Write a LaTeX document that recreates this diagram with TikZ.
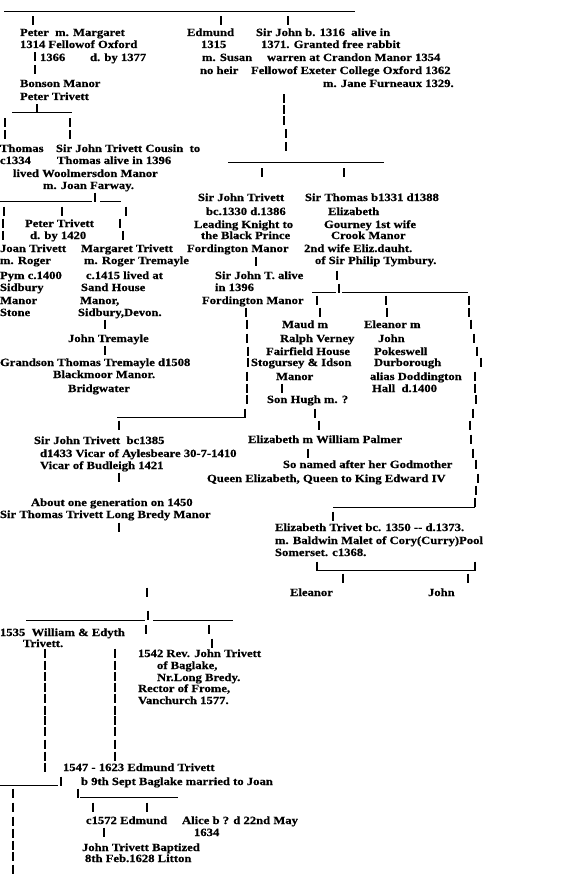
\documentclass[tikz,border=0pt]{standalone}
\usepackage{fontspec}
\newfontfamily\chfont{Liberation Serif}[FakeStretch=1.15, BoldFeatures={FakeBold=0.5}]
\newcommand\chtxt[4]{\node[txt] (#1) at (#2,#3+4) {#4};}
\newcommand\chbar[2]{\draw[vbar] (#1,#2-4.5) -- (#1,#2+4.5);}
\newcommand\chline[3]{\draw[hl] (#1,#3) -- (#2,#3);}
\tikzset{
  txt/.style={anchor=base west, inner sep=0pt, outer sep=0pt, font=\chfont\bfseries\fontsize{11}{12}\selectfont, text=black},
  vbar/.style={line width=2pt, black},
  hl/.style={line width=1pt, black}
}
\begin{document}
\begin{tikzpicture}[x=1pt,y=-1pt]
\fill[white] (0,0) rectangle (561,896);
\useasboundingbox (0,0) rectangle (561,896);
% top
\chline{4}{355}{12}
\chbar{33}{21}\chbar{221}{21}\chbar{288}{21}
\chtxt{peter}{20}{32}{Peter\ \ m. Margaret}
\chtxt{peterb}{20}{44}{1314 Fellowof Oxford}
\chbar{35}{57}
\chtxt{peterc}{40}{57}{1366}
\chtxt{peterd}{90}{57}{d. by 1377}
\chbar{35}{70}
\chtxt{bonson}{20}{83}{Bonson Manor}
\chtxt{bonsonb}{20}{96}{Peter Trivett}
\chline{12}{72}{113}\chbar{37}{109}
\chbar{5}{123}\chbar{70}{123}\chbar{5}{135}\chbar{70}{135}
\chtxt{edmund}{187}{32}{Edmund}
\chtxt{edmundb}{201}{44}{1315}
\chtxt{edmundc}{202}{57}{m. Susan}
\chtxt{edmundd}{200}{70}{no heir}
\chtxt{john}{256}{32}{Sir John b. 1316\ \ alive in}
\chtxt{johnb}{261}{44}{1371. Granted free rabbit}
\chtxt{johnc}{267}{57}{warren at Crandon Manor 1354}
\chtxt{johnd}{251}{70}{Fellowof Exeter College Oxford 1362}
\chtxt{johne}{323}{83}{m. Jane Furneaux 1329.}
\chbar{284}{99}\chbar{284}{110}\chbar{284}{121}\chbar{286}{134}\chbar{286}{147}
% left middle
\chtxt{thomas}{0}{148}{Thomas}
\chtxt{thomasb}{0}{160}{c1334}
\chtxt{cousin}{56}{148}{Sir John Trivett Cousin\ \ to}
\chtxt{cousinb}{57}{160}{Thomas alive in 1396}
\chtxt{cousinc}{13}{173}{lived Woolmersdon Manor}
\chtxt{cousind}{43}{185}{m. Joan Farway.}
\chline{0}{92}{201}\chbar{95}{197}\chline{100}{121}{201}
\chbar{4}{211}\chbar{62}{211}\chbar{126}{211}
\chbar{3}{223}\chbar{120}{223}
\chtxt{ptriv}{25}{223}{Peter Trivett}
\chbar{3}{235}\chbar{123}{235}
\chtxt{ptrivb}{30}{235}{d. by 1420}
\chtxt{joan}{0}{248}{Joan Trivett}
\chtxt{joanb}{0}{260}{m. Roger}
\chtxt{joanc}{0}{275}{Pym c.1400}
\chtxt{joand}{0}{287}{Sidbury}
\chtxt{joane}{0}{300}{Manor}
\chtxt{joanf}{0}{312}{Stone}
\chtxt{marg}{81}{248}{Margaret Trivett}
\chtxt{margb}{84}{260}{m. Roger Tremayle}
\chtxt{margc}{86}{275}{c.1415 lived at}
\chtxt{margd}{81}{287}{Sand House}
\chtxt{marge}{80}{300}{Manor,}
\chtxt{margf}{78}{312}{Sidbury,Devon.}
\chbar{105}{324}
\chtxt{jtrem}{68}{338}{John Tremayle}
\chbar{105}{350}
\chtxt{gtrem}{0}{362}{Grandson Thomas Tremayle d1508}
\chtxt{gtremb}{53}{374}{Blackmoor Manor.}
\chtxt{gtremc}{68}{388}{Bridgwater}
\chline{117}{245}{417}
% right middle
\chline{228}{384}{163}
\chbar{262}{173}\chbar{344}{173}
\chtxt{sjt}{198}{197}{Sir John Trivett}
\chtxt{sjtb}{206}{211}{bc.1330 d.1386}
\chtxt{sjtc}{194}{224}{Leading Knight to}
\chtxt{sjtd}{201}{235}{the Black Prince}
\chtxt{sjte}{187}{248}{Fordington Manor}
\chbar{256}{261}
\chtxt{sjtf}{215}{275}{Sir John T. alive}
\chtxt{sjtg}{215}{287}{in 1396}
\chtxt{sjth}{202}{300}{Fordington Manor}
\chtxt{sth}{305}{197}{Sir Thomas b1331 d1388}
\chtxt{sthb}{328}{211}{Elizabeth}
\chtxt{sthc}{324}{224}{Gourney 1st wife}
\chtxt{sthd}{331}{235}{Crook Manor}
\chtxt{sthe}{304}{248}{2nd wife Eliz.dauht.}
\chtxt{sthf}{315}{260}{of Sir Philip Tymbury.}
\chbar{337}{275}
\chline{312}{336}{292}\chbar{339}{288}\chline{342}{468}{292}
\chbar{317}{300}\chbar{386}{300}\chbar{469}{300}
\chbar{246}{312}\chbar{320}{312}\chbar{387}{312}\chbar{469}{312}
\chbar{247}{324}\chbar{471}{324}
\chtxt{maud}{282}{324}{Maud m}
\chtxt{eleanor}{364}{324}{Eleanor m}
\chbar{247}{338}\chbar{474}{338}
\chtxt{maudb}{280}{338}{Ralph Verney}
\chtxt{eleanorb}{378}{338}{John}
\chbar{248}{351}\chbar{477}{351}
\chtxt{maudc}{266}{351}{Fairfield House}
\chtxt{eleanorc}{374}{351}{Pokeswell}
\chbar{248}{362}\chbar{481}{362}
\chtxt{maudd}{251}{362}{Stogursey \& Idson}
\chtxt{eleanord}{374}{362}{Durborough}
\chbar{247}{376}\chbar{475}{376}
\chtxt{maude}{276}{376}{Manor}
\chtxt{eleanore}{370}{376}{alias Doddington}
\chbar{247}{388}\chbar{282}{388}\chbar{475}{388}
\chtxt{eleanorf}{372}{388}{Hall\ \ d.1400}
\chbar{247}{399}\chbar{476}{399}
\chtxt{hugh}{267}{399}{Son Hugh m. ?}
\chbar{245}{413}\chbar{315}{413}\chbar{473}{413}
% lower
\chbar{119}{425}\chbar{319}{425}\chbar{470}{425}
\chtxt{vicar}{34}{440}{Sir John Trivett\ \ bc1385}
\chtxt{vicarb}{40}{453}{d1433 Vicar of Aylesbeare 30-7-1410}
\chtxt{vicarc}{40}{465}{Vicar of Budleigh 1421}
\chbar{119}{477}
\chtxt{eliz}{248}{439}{Elizabeth m William Palmer}
\chbar{471}{439}
\chbar{308}{453}\chbar{473}{453}
\chtxt{elizb}{283}{464}{So named after her Godmother}
\chbar{476}{464}
\chtxt{elizc}{207}{478}{Queen Elizabeth, Queen to King Edward IV}
\chbar{478}{478}
\chbar{476}{490}
\chtxt{about}{31}{502}{About one generation on 1450}
\chtxt{aboutb}{0}{514}{Sir Thomas Trivett Long Bredy Manor}
\chbar{475}{502}
\chline{333}{475}{507}
\chbar{333}{516}
\chbar{119}{527}
\chtxt{etriv}{275}{527}{Elizabeth Trivet bc. 1350 -{}- d.1373.}
\chtxt{etrivb}{275}{540}{m. Baldwin Malet of Cory(Curry)Pool}
\chtxt{etrivc}{275}{552}{Somerset. c1368.}
\chbar{317}{566}\chline{318}{475}{570}\chbar{475}{566}
\chbar{343}{578}\chbar{468}{578}
\chtxt{eln}{290}{592}{Eleanor}
\chtxt{jhn}{428}{592}{John}
\chbar{147}{592}
% bottom
\chline{26}{145}{620}\chbar{148}{615}\chline{153}{233}{620}
\chtxt{will}{0}{632}{1535\ \ William \& Edyth}
\chbar{146}{629}\chbar{209}{629}
\chtxt{willb}{23}{643}{Trivett.}
\chbar{212}{643}
\chtxt{rev}{138}{653}{1542 Rev. John Trivett}
\chtxt{revb}{157}{665}{of Baglake,}
\chtxt{revc}{157}{677}{Nr.Long Bredy.}
\chtxt{revd}{138}{688}{Rector of Frome,}
\chtxt{reve}{138}{700}{Vanchurch 1577.}
\foreach \yy in {653,665,676,687,698,710,720,731,744,756}{\chbar{45}{\yy}\chbar{115}{\yy}}
\chbar{45}{767}
\chtxt{edm}{63}{767}{1547 - 1623 Edmund Trivett}
\chline{0}{58}{785}\chbar{61}{781}
\chtxt{edmb}{81}{781}{b 9th Sept Baglake married to Joan}
\chbar{78}{793}\chline{80}{178}{797}
\foreach \yy in {793,807,821,833,845,856,869}{\chbar{13}{\yy}}
\chbar{93}{807}\chbar{147}{807}
\chtxt{ced}{86}{820}{c1572 Edmund}
\chtxt{alice}{182}{820}{Alice b ? d 22nd May}
\chbar{104}{832}
\chtxt{aliceb}{194}{832}{1634}
\chtxt{jtb}{82}{847}{John Trivett Baptized}
\chtxt{jtbb}{85}{858}{8th Feb.1628 Litton}
\end{tikzpicture}
\end{document}
